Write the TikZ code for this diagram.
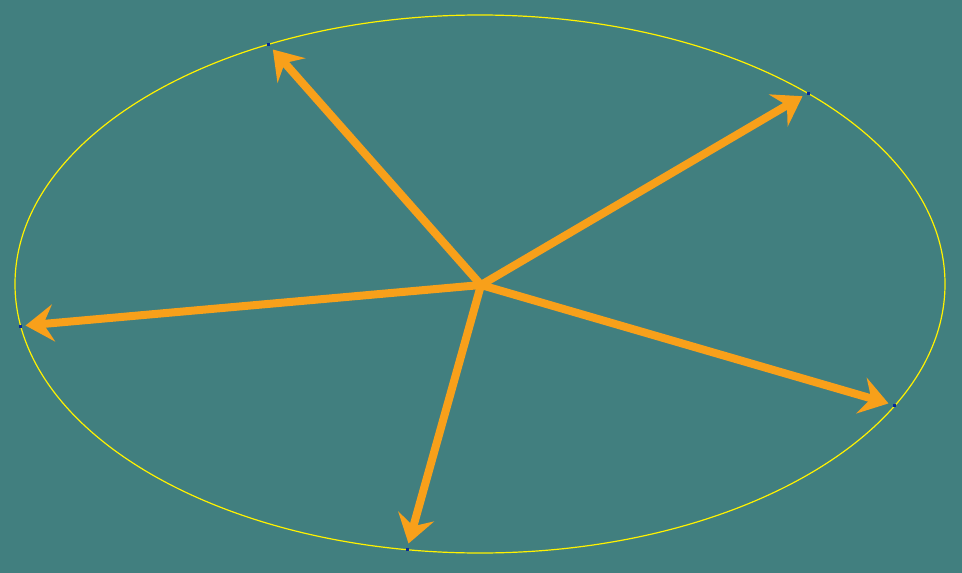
\documentclass[tikz,border=0pt]{standalone}
\usepackage{tikz}
\usetikzlibrary{arrows.meta}

\definecolor{bgteal}{RGB}{65,127,127}
\definecolor{arroworange}{RGB}{248,160,26}
\definecolor{dotblue}{RGB}{10,40,150}

\begin{document}
\begin{tikzpicture}
	[x=1pt, y=-1pt,
	 dot/.style = {fill=dotblue, inner sep=0pt, minimum size=3pt, outer sep=4pt},
	 ray/.style = {arroworange, line width=8pt, -{Stealth[length=28pt, width=37pt, inset=10pt]}}]
	\fill[bgteal] (0,0) rectangle (962,573);
	\useasboundingbox (0,0) rectangle (962,573);
	\draw[yellow, line width=1.2pt] (480,284) ellipse [x radius=465, y radius=269];
	\coordinate (c) at (481,285);
	\node[dot] (1) at (268,44) {};
	\node[dot] (2) at (808,93) {};
	\node[dot] (3) at (20,326) {};
	\node[dot] (4) at (894,405) {};
	\node[dot] (5) at (407,549) {};
	\draw[ray] (c) -- (1);
	\draw[ray] (c) -- (2);
	\draw[ray] (c) -- (3);
	\draw[ray] (c) -- (4);
	\draw[ray] (c) -- (5);
\end{tikzpicture}
\end{document}
